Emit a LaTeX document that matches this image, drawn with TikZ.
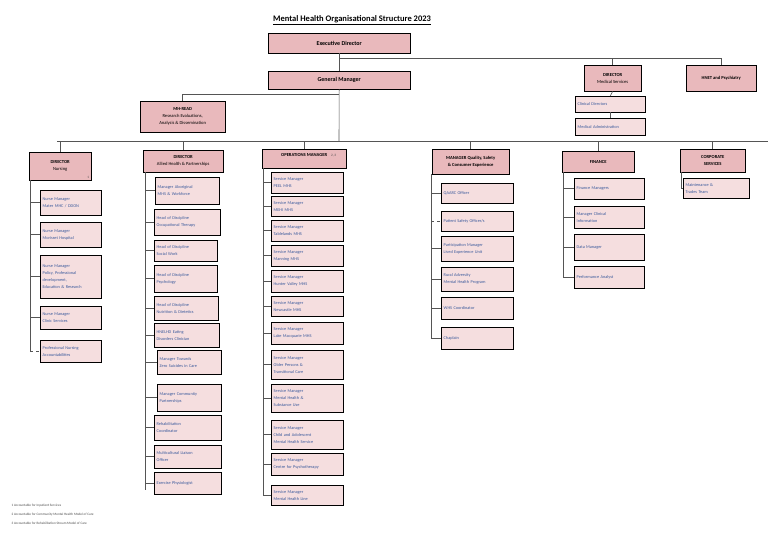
\documentclass[tikz,border=0pt]{standalone}
\usepackage{fontspec}
\setmainfont{Carlito}
\usetikzlibrary{positioning,shadows}
\definecolor{headpink}{HTML}{E9B9BC}
\definecolor{childpink}{HTML}{F5DEDF}
\definecolor{childblue}{HTML}{3B5A9C}
\definecolor{linegray}{HTML}{555555}
\newcommand{\cbox}[6]{\node[child_style, text width=#4pt-5pt, minimum height=#5pt] (#1) at (#2,#3) {#6};}
\begin{document}
\begin{tikzpicture}[x=1pt, y=-1pt,
    box_style/.style={draw=black, line width=0.4pt, anchor=north west, inner xsep=2.5pt, inner ysep=1pt,
        drop shadow={shadow xshift=1.2pt, shadow yshift=-1.2pt, fill=black!85, opacity=1}},
    head_style/.style={box_style, fill=headpink, align=center, font=\fontsize{4.6}{7}\selectfont\bfseries},
    child_style/.style={box_style, fill=childpink, align=left, text=childblue, font=\fontsize{4.3}{7}\selectfont},
    edge_style/.style={draw=linegray, line width=0.6pt},
    note_style/.style={font=\fontsize{3.4}{5}\selectfont, anchor=west, text=black!70}]
\useasboundingbox (0,0) rectangle (768,543);

\node[font=\fontsize{8.5}{10}\selectfont\bfseries] (title) at (352,20) {\underline{Mental Health Organisational Structure 2023}};

% top of the tree
\node[head_style, minimum width=142pt, minimum height=20pt, font=\fontsize{6}{7}\selectfont\bfseries] (exec) at (268,33) {Executive Director};
\node[head_style, minimum width=142pt, minimum height=18pt, font=\fontsize{6}{7}\selectfont\bfseries] (gm) at (268,71) {General Manager};
\node[head_style, minimum width=57pt, minimum height=26pt] (dms) at (584,65) {DIRECTOR\\\mdseries Medical Services};
\node[head_style, minimum width=70pt, minimum height=26pt] (hnet) at (686,65) {HNET and Psychiatry};
\node[child_style, minimum width=70pt, minimum height=16pt, text width=65pt] (clin) at (575,96) {Clinical Directors};
\node[child_style, minimum width=70pt, minimum height=17pt, text width=65pt] (madm) at (575,118) {Medical Administration};
\node[head_style, minimum width=85pt, minimum height=31pt] (read) at (140,101) {MH-READ\\\mdseries Research Evaluations,\\\mdseries Analysis \& Dissemination};

\coordinate (topbar) at (339,58);
\coordinate (readbar) at (339,94);
\coordinate (mainbar) at (339,141);
\draw[edge_style] (exec.south) -- (gm.north);
\draw[edge_style] (topbar) -| (dms.north);
\draw[edge_style] (topbar) -| (hnet.north);
\draw[edge_style] (dms.south) -- (clin.north);
\draw[edge_style] (clin.south) -- (madm.north);
\draw[edge_style] (gm.south) -- (mainbar);
\draw[edge_style] (readbar) -| (read.north);
\draw[edge_style] (57,141) -- (768,141);

% directors and managers
\node[head_style, minimum width=62pt, minimum height=28pt, label={[note_style, anchor=south east, inner sep=2pt]south east:1}] (dirn) at (29,152) {DIRECTOR\\\mdseries Nursing};
\node[head_style, minimum width=80pt, minimum height=22pt] (dira) at (143,150) {DIRECTOR\\\mdseries Allied Health \& Partnerships};
\node[head_style, minimum width=84pt, minimum height=19pt, label={[note_style, anchor=north east, inner sep=0pt]north east:{\raisebox{-7pt}{2, 3\hspace{10pt}}}}] (ops) at (262,149) {OPERATIONS MANAGER\\[1pt]};
\node[head_style, minimum width=77pt, minimum height=25pt] (qual) at (432,149) {MANAGER Quality, Safety\\\& Consumer Experience};
\node[head_style, minimum width=72pt, minimum height=21pt] (fin) at (562,151) {FINANCE};
\node[head_style, minimum width=65pt, minimum height=23pt] (corp) at (680,149) {CORPORATE\\SERVICES};
\foreach \h in {dirn,dira,ops,qual,fin,corp}
    \draw[edge_style] (\h.north |- mainbar) -- (\h.north);

% nursing
\cbox{n1}{40}{190}{61}{25}{Nurse Manager\\Mater MHC / DDON}
\cbox{n2}{40}{222}{61}{25}{Nurse Manager\\Morisset Hospital}
\cbox{n3}{40}{255}{61}{43}{Nurse Manager\\Policy, Professional\\development,\\Education \& Research}
\cbox{n4}{40}{306}{61}{23}{Nurse Manager\\Clinic Services}
\cbox{n5}{40}{340}{61}{22}{Professional Nursing\\Accountabilities}
\coordinate (nsp) at (30,180);
\draw[edge_style, line width=0.4pt] (nsp) -- (30,351);
\foreach \c in {n1,n2,n3,n4}
    \draw[edge_style] (nsp |- \c.west) -- (\c.west);
\draw[edge_style, dashed] (nsp |- n5.west) -- (n5.west);

% allied health
\cbox{a1}{155}{177}{64}{27}{Manager Aboriginal\\MHS \& Workforce}
\cbox{a2}{154}{209}{66}{26}{Head of Discipline\\Occupational Therapy}
\cbox{a3}{154}{240}{63}{21}{Head of Discipline\\Social Work}
\cbox{a4}{154}{265}{63}{27}{Head of Discipline\\Psychology}
\cbox{a5}{154}{296}{64}{24}{Head of Discipline\\Nutrition \& Dietetics}
\cbox{a6}{154}{323}{65}{24}{HNELHD Eating\\Disorders Clinician}
\cbox{a7}{157}{350}{64}{24}{Manager Towards\\Zero Suicides in Care}
\cbox{a8}{157}{384}{64}{27}{Manager Community\\Partnerships}
\cbox{a9}{154}{415}{67}{25}{Rehabilitation\\Coordinator}
\cbox{a10}{154}{445}{67}{23}{Multicultural Liaison\\Officer}
\cbox{a11}{154}{472}{67}{22}{Exercise Physiologist}
\coordinate (asp) at (145,172);
\draw[edge_style, line width=0.4pt] (asp) -- (145,490);
\foreach \c in {a1,a2,a3,a4,a5,a6,a7,a8,a9,a10,a11}
    \draw[edge_style] (asp |- \c.west) -- (\c.west);

% operations
\cbox{o1}{271}{172}{72}{21}{Service Manager\\PEEL MHS}
\cbox{o2}{271}{196}{72}{20}{Service Manager\\MEHI MHS}
\cbox{o3}{271}{220}{72}{21}{Service Manager\\Tablelands MHS}
\cbox{o4}{271}{245}{72}{21}{Service Manager\\Manning MHS}
\cbox{o5}{271}{270}{72}{22}{Service Manager\\Hunter Valley MHS}
\cbox{o6}{271}{296}{72}{20}{Service Manager\\Newcastle MHS}
\cbox{o7}{271}{322}{72}{22}{Service Manager\\Lake Macquarie MHS}
\cbox{o8}{271}{350}{72}{29}{Service Manager\\Older Persons \&\\Transitional Care}
\cbox{o9}{271}{384}{72}{28}{Service Manager\\Mental Health \&\\Substance Use}
\cbox{o10}{271}{420}{72}{29}{Service Manager\\Child and Adolescent\\Mental Health Service}
\cbox{o11}{271}{453}{72}{22}{Service Manager\\Centre for Psychotherapy}
\cbox{o12}{271}{485}{72}{20}{Service Manager\\Mental Health Line}
\coordinate (osp) at (263,168);
\draw[edge_style, line width=0.4pt] (osp) -- (263,495);
\foreach \c in {o1,o2,o3,o4,o5,o6,o7,o8,o9,o10,o11,o12}
    \draw[edge_style] (osp |- \c.west) -- (\c.west);

% quality
\cbox{q1}{441}{183}{72}{20}{QAARC Officer}
\cbox{q2}{441}{211}{72}{20}{Patient Safety Officer/s}
\cbox{q3}{441}{236}{72}{25}{Participation Manager\\Lived Experience Unit}
\cbox{q4}{441}{267}{72}{24}{Rural Adversity\\Mental Health Program}
\cbox{q5}{441}{297}{72}{22}{WHS Coordinator}
\cbox{q6}{441}{327}{72}{22}{Chaplain}
\coordinate (qsp) at (431,174);
\draw[edge_style, line width=0.4pt] (qsp) -- (431,338);
\foreach \c in {q1,q3,q4,q5,q6}
    \draw[edge_style] (qsp |- \c.west) -- (\c.west);
\draw[edge_style, dashed] (qsp |- q2.west) -- (q2.west);

% finance
\cbox{f1}{574}{178}{70}{21}{Finance Managers}
\cbox{f2}{574}{206}{70}{22}{Manager Clinical\\Information}
\cbox{f3}{574}{234}{70}{26}{Data Manager}
\cbox{f4}{574}{266}{70}{22}{Performance Analyst}
\coordinate (fsp) at (563,172);
\draw[edge_style, line width=0.4pt] (fsp) -- (563,277);
\foreach \c in {f1,f2,f3,f4}
    \draw[edge_style] (fsp |- \c.west) -- (\c.west);

% corporate
\cbox{c1}{683}{178}{66}{20}{Maintenance \&\\Trades Team}
\draw[edge_style] (681,172) |- (c1.west);

% footnotes
\node[note_style] (fn1) at (8,506) {1 Accountable for Inpatient Services};
\node[note_style] (fn2) at (8,515) {2 Accountable for Community Mental Health Model of Care};
\node[note_style] (fn3) at (8,523) {3 Accountable for Rehabilitation Stream Model of Care};
\end{tikzpicture}
\end{document}
